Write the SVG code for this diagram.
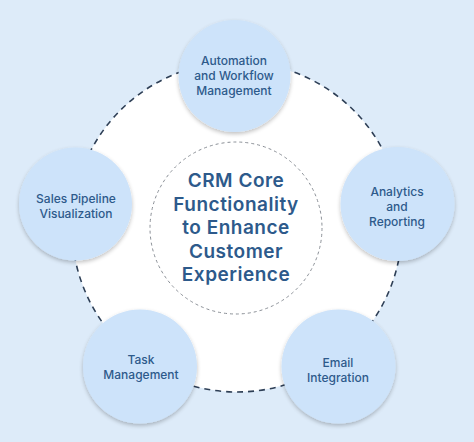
<svg xmlns="http://www.w3.org/2000/svg" width="474" height="442" viewBox="0 0 474 442">
<defs>
<filter id="sh" x="-30%" y="-30%" width="160%" height="160%">
<feGaussianBlur in="SourceAlpha" stdDeviation="2"/>
<feOffset dx="0" dy="2" result="b"/>
<feComponentTransfer><feFuncA type="linear" slope="0.25"/></feComponentTransfer>
<feMerge><feMergeNode/><feMergeNode in="SourceGraphic"/></feMerge>
</filter>
</defs>
<style>
.node{fill:#cde3fa;filter:url(#sh)}
.lbl{font-family:Inter,"Noto Sans",sans-serif;font-size:12px;font-weight:500;fill:#2d5a8b;text-anchor:middle}
.ctr{font-family:Inter,"Noto Sans",sans-serif;font-size:19px;font-weight:600;fill:#2d5a8b;text-anchor:middle;letter-spacing:0.5px}
</style>
<rect width="474" height="442" fill="#ddebf9"/>
<g id="connectors">
<circle cx="237" cy="227" r="165" fill="#ffffff" stroke="#2e3f56" stroke-width="1.6" stroke-dasharray="6 5"/>
</g>
<g id="center">
<circle cx="236" cy="228" r="86" fill="none" stroke="#8a8f96" stroke-width="1" stroke-dasharray="3 3"/>
<text class="ctr"><tspan x="236" y="187">CRM Core</tspan><tspan x="236" y="210.5">Functionality</tspan><tspan x="236" y="234">to Enhance</tspan><tspan x="236" y="257.5">Customer</tspan><tspan x="236" y="281">Experience</tspan></text>
</g>
<g id="automation">
<circle class="node" cx="234.5" cy="76" r="56"/>
<text class="lbl"><tspan x="234" y="65">Automation</tspan><tspan x="234" y="80">and Workflow</tspan><tspan x="234" y="95">Management</tspan></text>
</g>
<g id="analytics">
<circle class="node" cx="397.5" cy="204" r="57"/>
<text class="lbl"><tspan x="397" y="196">Analytics</tspan><tspan x="397" y="211">and</tspan><tspan x="397" y="226">Reporting</tspan></text>
</g>
<g id="email">
<circle class="node" cx="338.5" cy="366.5" r="57"/>
<text class="lbl"><tspan x="338" y="367">Email</tspan><tspan x="338" y="382">Integration</tspan></text>
</g>
<g id="task">
<circle class="node" cx="140" cy="366.5" r="57"/>
<text class="lbl"><tspan x="141" y="364">Task</tspan><tspan x="141" y="379">Management</tspan></text>
</g>
<g id="sales">
<circle class="node" cx="75.5" cy="204" r="56.5"/>
<text class="lbl"><tspan x="76" y="203">Sales Pipeline</tspan><tspan x="76" y="218">Visualization</tspan></text>
</g>
</svg>
